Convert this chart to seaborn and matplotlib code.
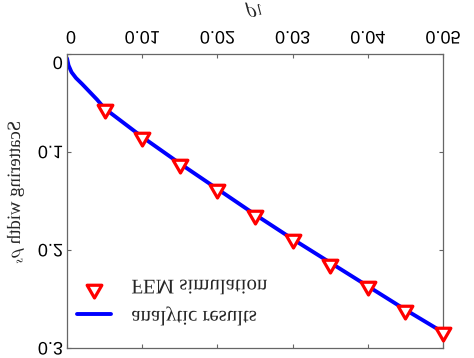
import matplotlib
matplotlib.use("Agg")
import matplotlib.pyplot as plt
import matplotlib.patheffects as pe
from matplotlib.transforms import Affine2D
import seaborn as sns

# ==========================
# DATA
# ==========================

rho_l_fem = [0.005, 0.010, 0.015, 0.020, 0.025, 0.030, 0.035, 0.040, 0.045, 0.050]
width_fem = [0.057, 0.085, 0.113, 0.138, 0.165, 0.189, 0.214, 0.237, 0.261, 0.284]

rho_l_curve = [0, 0.0002, 0.0006, 0.0012, 0.002, 0.003, 0.004, 0.005, 0.010, 0.015,
               0.020, 0.025, 0.030, 0.035, 0.040, 0.045, 0.050]
width_curve = [0.005, 0.012, 0.019, 0.025, 0.031, 0.039, 0.047, 0.056, 0.085, 0.112,
               0.138, 0.164, 0.189, 0.213, 0.237, 0.261, 0.284]

x_ticks = [0, 0.01, 0.02, 0.03, 0.04, 0.05]
x_tick_labels = ["0", "0.01", "0.02", "0.03", "0.04", "0.05"]
y_ticks = [0, 0.1, 0.2, 0.3]
y_tick_labels = ["0", "0.1", "0.2", "0.3"]

legend_labels = ["FEM simulation", "analytic results"]


# the reference is mirrored top-to-bottom, text included
class FlipText(pe.AbstractPathEffect):
    def __init__(self, dx=0, dy=0):
        super().__init__()
        self.dx = dx
        self.dy = dy

    def draw_path(self, renderer, gc, tpath, affine, rgbFace=None):
        bb = tpath.get_extents(affine)
        cy = 0.5 * (bb.y0 + bb.y1)
        flip = (Affine2D(affine.get_matrix())
                .translate(0, -cy).scale(1, -1).translate(self.dx, cy + self.dy))
        renderer.draw_path(gc, tpath, flip, rgbFace)


# ==========================
# STYLE
# ==========================

sns.set_theme(style="white")
plt.rcParams["font.family"] = ["Liberation Sans", "DejaVu Sans"]
plt.rcParams["mathtext.fontset"] = "stix"

serif = {"family": ["Liberation Serif", "DejaVu Serif"], "size": 13}

fig = plt.figure(figsize=(4.74, 3.58), dpi=100)
ax = fig.add_axes([0.1414, 0.0279, 0.7932, 0.8226])

# ==========================
# PLOT
# ==========================

sns.lineplot(
    x=rho_l_curve,
    y=width_curve,
    color="#0000ff",
    linewidth=2.8,
    sort=False,
    estimator=None,
    label=legend_labels[1],
    ax=ax
)

sns.scatterplot(
    x=rho_l_fem,
    y=width_fem,
    marker=(3, 0, 180),
    s=150,
    color="white",
    edgecolor="#ff0000",
    linewidth=2.3,
    zorder=3,
    clip_on=False,
    label=legend_labels[0],
    ax=ax
)

ax.set_xlim(0, 0.05)
ax.set_ylim(0.3, 0)

ax.set_xticks(x_ticks)
ax.set_xticklabels(x_tick_labels)
ax.set_yticks(y_ticks)
ax.set_yticklabels(y_tick_labels)

ax.xaxis.tick_top()
ax.tick_params(
    axis="both", direction="in", length=3, width=0.8,
    colors="#666666", labelcolor="black", labelsize=13,
    top=True, bottom=True, left=True, right=True
)
ax.tick_params(axis="x", pad=4.3, labeltop=True, labelbottom=False)
ax.tick_params(axis="y", pad=3)

for s in ax.spines.values():
    s.set_color("#666666")
    s.set_linewidth(0.9)

ax.set_xlabel(r"$\rho_l$", fontdict={**serif, "size": 16})
ax.xaxis.set_label_position("top")
ax.xaxis.set_label_coords(0.5, 1.139)
ax.set_ylabel(r"Scattering width $\rho_s$", fontdict={**serif, "size": 13.5})
ax.yaxis.set_label_coords(-0.109, 0.529)

handles, labels = ax.get_legend_handles_labels()
order = [labels.index(lab) for lab in legend_labels]
leg = ax.legend(
    [handles[i] for i in order],
    [labels[i] for i in order],
    loc="lower left",
    bbox_to_anchor=(0.027, 0.075),
    frameon=False,
    prop={"family": ["Liberation Serif", "DejaVu Serif"], "size": 15},
    handlelength=1.6,
    handletextpad=1.0,
    labelspacing=0.35,
    borderpad=0,
    borderaxespad=0,
    scatterpoints=1
)

# ==========================
# MIRRORED TEXT
# ==========================

texts = (ax.get_xticklabels() + ax.get_yticklabels()
         + [ax.xaxis.label, ax.yaxis.label] + leg.get_texts())
for t in texts:
    t.set_path_effects([FlipText()])

ax.get_yticklabels()[0].set_path_effects([FlipText(dy=-9)])
ax.get_xticklabels()[0].set_path_effects([FlipText(dx=4)])

fig.savefig("out.png", dpi=100)
plt.close()
